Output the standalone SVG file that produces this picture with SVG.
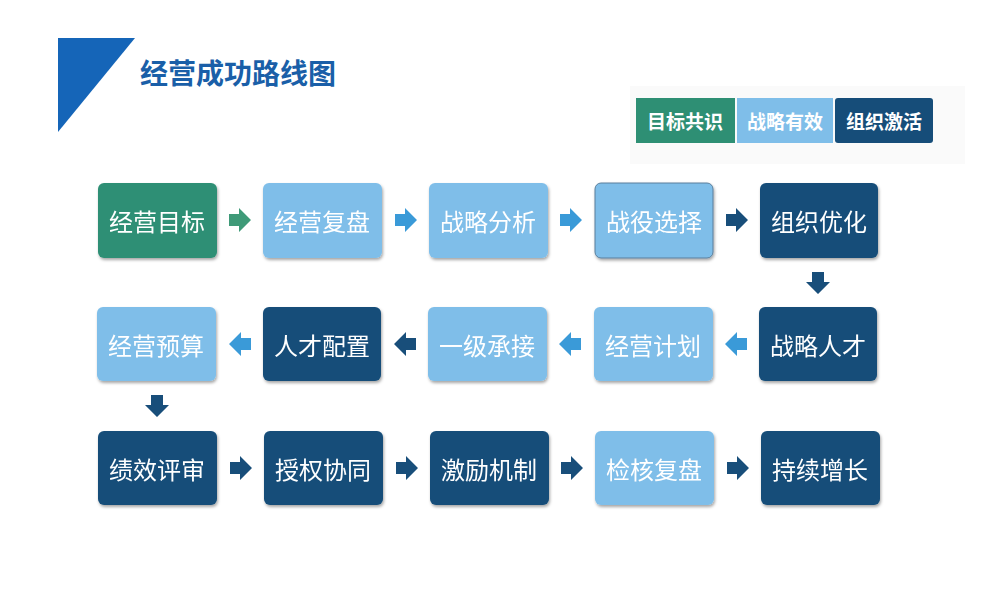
<svg xmlns="http://www.w3.org/2000/svg" width="1000" height="609" viewBox="0 0 1000 609">
<defs>
<style>
text{font-family:"Noto Sans CJK SC","Noto Sans",sans-serif;text-anchor:middle;dominant-baseline:central;fill:#fff}
.b{font-size:24px}
.g{fill:#2e8f74}.l{fill:#7fbee9}.d{fill:#164d79}
.ag{fill:#3f9a78}.al{fill:#3a9ad8}.ad{fill:#184e7a}
.lg{font-size:19px;font-weight:bold}
</style>
<filter id="s" x="-10%" y="-10%" width="120%" height="130%"><feDropShadow dx="1" dy="2" stdDeviation="1.5" flood-color="#000" flood-opacity="0.35"/></filter>
<path id="ar" d="M-11,-6 h10 v-6 l12,12 l-12,12 v-6 h-10 z"/>
<path id="dn" d="M-6,-11 v10 h-6 l12,12 l12,-12 h-6 v-10 z"/>
</defs>
<rect width="1000" height="609" fill="#fff"/>
<polygon points="58,38 135,38 58,132" fill="#1565b8"/>
<text x="140" y="72" style="font-size:28px;font-weight:bold;fill:#1a5fa8;text-anchor:start">经营成功路线图</text>
<g id="legend">
<rect x="630" y="86" width="335" height="78" fill="#fafafa"/>
<rect x="636" y="98" width="99" height="45" class="g"/><text x="685" y="120" class="lg">目标共识</text>
<rect x="737" y="98" width="96" height="45" class="l"/><text x="785" y="120" class="lg">战略有效</text>
<rect x="835" y="98" width="98" height="45" rx="3" class="d"/><text x="884" y="120" class="lg">组织激活</text>
</g>
<g id="nodes" filter="url(#s)">
<g id="n1"><rect x="98" y="183" width="119" height="75" rx="6" class="g"/><text x="157" y="220" class="b">经营目标</text></g>
<g id="n2"><rect x="263" y="183" width="119" height="75" rx="6" class="l"/><text x="322" y="220" class="b">经营复盘</text></g>
<g id="n3"><rect x="429" y="183" width="119" height="75" rx="6" class="l"/><text x="488" y="220" class="b">战略分析</text></g>
<g id="n4"><rect x="595" y="183" width="118" height="75" rx="6" class="l" stroke="#5a7f9c" stroke-width="1"/><text x="654" y="220" class="b">战役选择</text></g>
<g id="n5"><rect x="760" y="183" width="118" height="75" rx="6" class="d"/><text x="819" y="220" class="b">组织优化</text></g>
<g id="n6"><rect x="759" y="307" width="118" height="74" rx="6" class="d"/><text x="818" y="344" class="b">战略人才</text></g>
<g id="n7"><rect x="594" y="307" width="119" height="74" rx="6" class="l"/><text x="653" y="344" class="b">经营计划</text></g>
<g id="n8"><rect x="428" y="307" width="119" height="74" rx="6" class="l"/><text x="487" y="344" class="b">一级承接</text></g>
<g id="n9"><rect x="263" y="307" width="118" height="74" rx="6" class="d"/><text x="322" y="344" class="b">人才配置</text></g>
<g id="n10"><rect x="97" y="307" width="119" height="74" rx="6" class="l"/><text x="156" y="344" class="b">经营预算</text></g>
<g id="n11"><rect x="98" y="431" width="119" height="74" rx="6" class="d"/><text x="157" y="468" class="b">绩效评审</text></g>
<g id="n12"><rect x="264" y="431" width="119" height="74" rx="6" class="d"/><text x="323" y="468" class="b">授权协同</text></g>
<g id="n13"><rect x="430" y="431" width="119" height="74" rx="6" class="d"/><text x="489" y="468" class="b">激励机制</text></g>
<g id="n14"><rect x="595" y="431" width="119" height="74" rx="6" class="l"/><text x="654" y="468" class="b">检核复盘</text></g>
<g id="n15"><rect x="761" y="431" width="119" height="74" rx="6" class="d"/><text x="820" y="468" class="b">持续增长</text></g>
</g>
<g id="connectors">
<use href="#ar" x="240" y="220" class="ag"/>
<use href="#ar" x="406" y="220" class="al"/>
<use href="#ar" x="571" y="220" class="al"/>
<use href="#ar" x="737" y="220" class="ad"/>
<use href="#dn" x="818" y="283" class="ad"/>
<use href="#ar" transform="translate(736,344) rotate(180)" class="al"/>
<use href="#ar" transform="translate(570,344) rotate(180)" class="al"/>
<use href="#ar" transform="translate(405,344) rotate(180)" class="ad"/>
<use href="#ar" transform="translate(240,344) rotate(180)" class="al"/>
<use href="#dn" x="157" y="406" class="ad"/>
<use href="#ar" x="241" y="468" class="ad"/>
<use href="#ar" x="407" y="468" class="ad"/>
<use href="#ar" x="572" y="468" class="ad"/>
<use href="#ar" x="738" y="468" class="ad"/>
</g>
</svg>
